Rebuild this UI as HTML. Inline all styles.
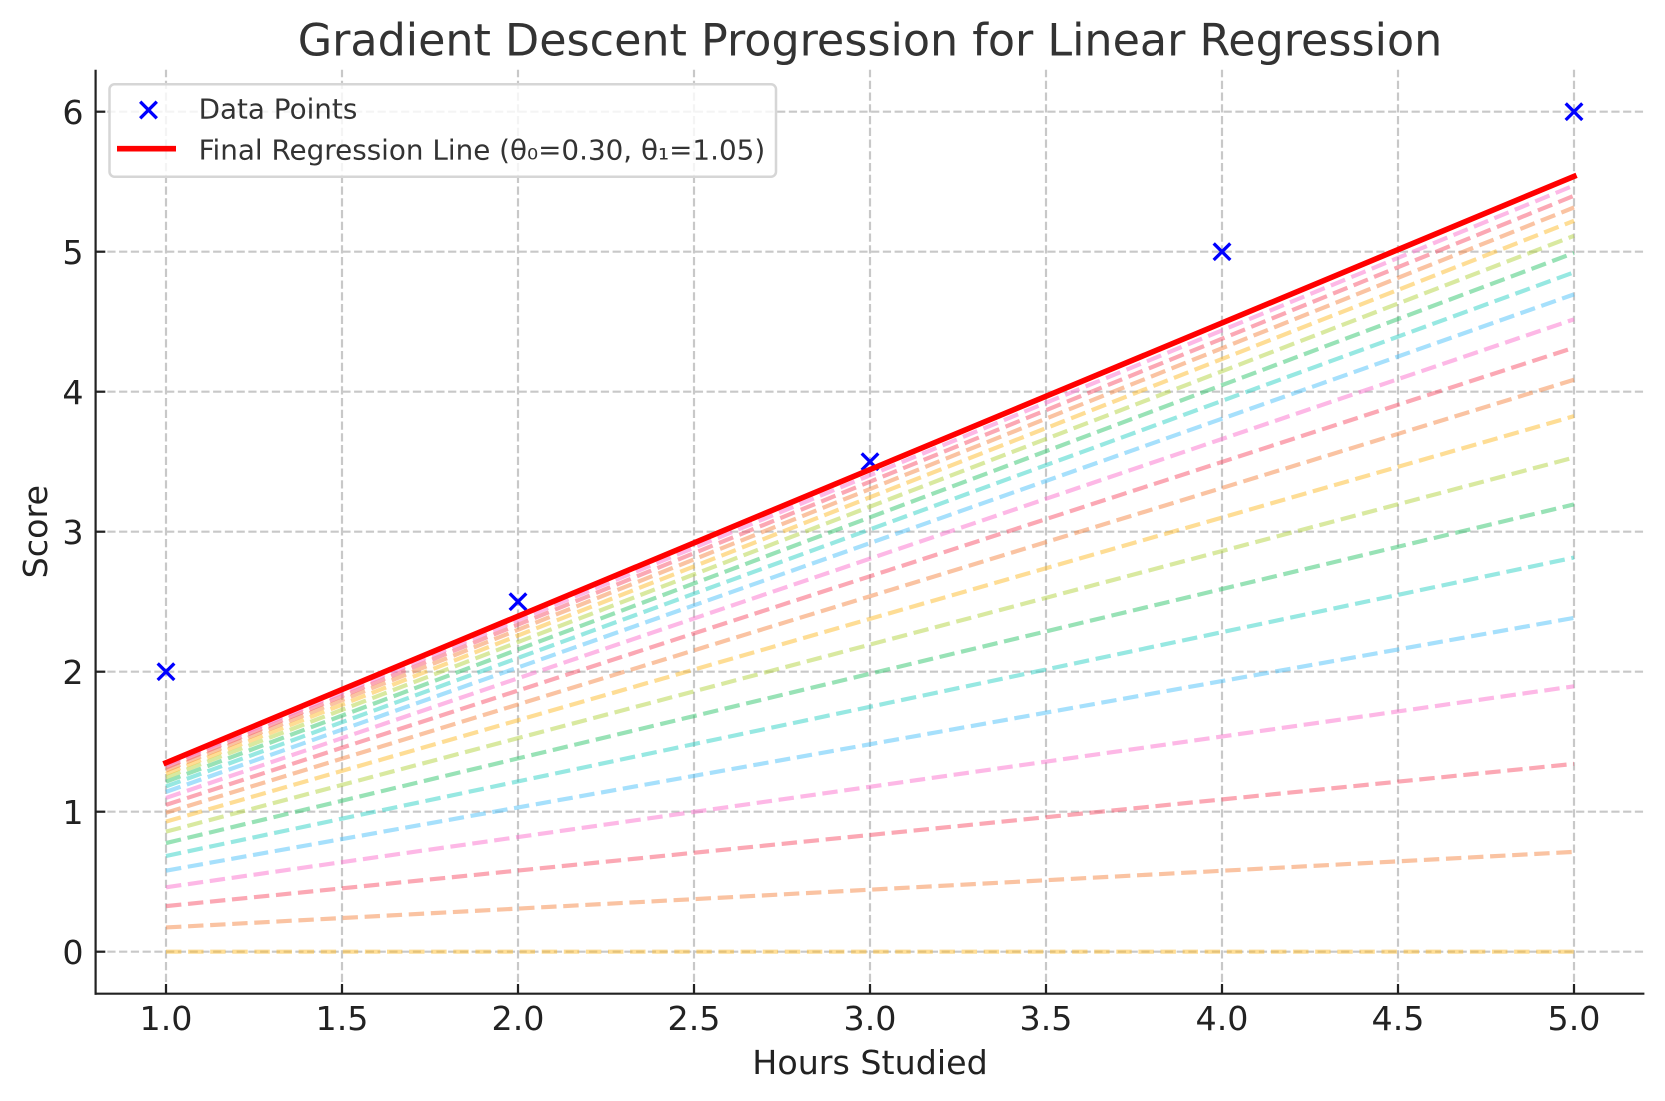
<!DOCTYPE html>
<html>
<head>
<meta charset="utf-8">
<style>
  html, body { margin: 0; padding: 0; background: #ffffff; }
  svg { display: block; }
  text { font-family: "DejaVu Sans", "Liberation Sans", sans-serif; }
</style>
</head>
<body>
<svg width="1665" height="1101" viewBox="0 0 1665 1101" xmlns="http://www.w3.org/2000/svg">
  <rect x="0" y="0" width="1665" height="1101" fill="#ffffff"/>

  <!-- Grid -->
  <g stroke="#c8c8c8" stroke-width="2.2" stroke-dasharray="8.2 3.55" fill="none">
    <line x1="166" y1="993.7" x2="166" y2="69.7"/>
    <line x1="342" y1="993.7" x2="342" y2="69.7"/>
    <line x1="518" y1="993.7" x2="518" y2="69.7"/>
    <line x1="694" y1="993.7" x2="694" y2="69.7"/>
    <line x1="870" y1="993.7" x2="870" y2="69.7"/>
    <line x1="1046" y1="993.7" x2="1046" y2="69.7"/>
    <line x1="1222" y1="993.7" x2="1222" y2="69.7"/>
    <line x1="1398" y1="993.7" x2="1398" y2="69.7"/>
    <line x1="1574" y1="993.7" x2="1574" y2="69.7"/>
    <line x1="95.6" y1="951.7" x2="1644.4" y2="951.7"/>
    <line x1="95.6" y1="811.7" x2="1644.4" y2="811.7"/>
    <line x1="95.6" y1="671.7" x2="1644.4" y2="671.7"/>
    <line x1="95.6" y1="531.7" x2="1644.4" y2="531.7"/>
    <line x1="95.6" y1="391.7" x2="1644.4" y2="391.7"/>
    <line x1="95.6" y1="251.7" x2="1644.4" y2="251.7"/>
    <line x1="95.6" y1="111.7" x2="1644.4" y2="111.7"/>
  </g>

  <!-- Scatter data points -->
  <g stroke="#0000ff" stroke-width="3.3" fill="none">
    <path d="M157.7 663.4 L174.3 680 M174.3 663.4 L157.7 680"/>
    <path d="M509.7 593.4 L526.3 610 M526.3 593.4 L509.7 610"/>
    <path d="M861.7 453.4 L878.3 470 M878.3 453.4 L861.7 470"/>
    <path d="M1213.7 243.4 L1230.3 260 M1230.3 243.4 L1213.7 260"/>
    <path d="M1565.7 103.4 L1582.3 120 M1582.3 103.4 L1565.7 120"/>
  </g>

  <!-- Gradient descent iteration lines -->
  <g stroke-width="4.17" stroke-dasharray="15.4 6.7" stroke-opacity="0.5" fill="none" stroke-linecap="butt">
    <line x1="166" y1="951.7" x2="1574" y2="951.7" stroke="#fdbb2b"/>
    <line x1="166" y1="927.48" x2="1574" y2="851.88" stroke="#f58745"/>
    <line x1="166" y1="906.12" x2="1574" y2="763.87" stroke="#f75169"/>
    <line x1="166" y1="887.28" x2="1574" y2="686.28" stroke="#fb71cd"/>
    <line x1="166" y1="870.66" x2="1574" y2="617.87" stroke="#4dc1f9"/>
    <line x1="166" y1="856.00" x2="1574" y2="557.56" stroke="#2fd1c5"/>
    <line x1="166" y1="843.07" x2="1574" y2="504.39" stroke="#31c56d"/>
    <line x1="166" y1="831.66" x2="1574" y2="457.51" stroke="#b3d341"/>
    <line x1="166" y1="821.60" x2="1574" y2="416.18" stroke="#fdbb2b"/>
    <line x1="166" y1="812.72" x2="1574" y2="379.75" stroke="#f58745"/>
    <line x1="166" y1="804.88" x2="1574" y2="347.63" stroke="#f75169"/>
    <line x1="166" y1="797.96" x2="1574" y2="319.31" stroke="#fb71cd"/>
    <line x1="166" y1="791.86" x2="1574" y2="294.35" stroke="#4dc1f9"/>
    <line x1="166" y1="786.47" x2="1574" y2="272.34" stroke="#2fd1c5"/>
    <line x1="166" y1="781.71" x2="1574" y2="252.94" stroke="#31c56d"/>
    <line x1="166" y1="777.51" x2="1574" y2="235.84" stroke="#b3d341"/>
    <line x1="166" y1="773.80" x2="1574" y2="220.77" stroke="#fdbb2b"/>
    <line x1="166" y1="770.52" x2="1574" y2="207.48" stroke="#f58745"/>
    <line x1="166" y1="767.63" x2="1574" y2="195.77" stroke="#f75169"/>
    <line x1="166" y1="765.07" x2="1574" y2="185.44" stroke="#fb71cd"/>
  </g>

  <!-- Final regression line -->
  <line x1="166" y1="762.80" x2="1574" y2="176.34" stroke="#ff0000" stroke-width="5.56" stroke-linecap="square"/>

  <!-- Spines -->
  <g stroke="#222222" stroke-width="2.2" fill="none">
    <line x1="95.6" y1="69.7" x2="95.6" y2="994.8"/>
    <line x1="94.5" y1="993.7" x2="1644.4" y2="993.7"/>
  </g>

  <!-- Ticks (inward) -->
  <g stroke="#222222" stroke-width="2.2">
    <line x1="166" y1="993.7" x2="166" y2="984"/>
    <line x1="342" y1="993.7" x2="342" y2="984"/>
    <line x1="518" y1="993.7" x2="518" y2="984"/>
    <line x1="694" y1="993.7" x2="694" y2="984"/>
    <line x1="870" y1="993.7" x2="870" y2="984"/>
    <line x1="1046" y1="993.7" x2="1046" y2="984"/>
    <line x1="1222" y1="993.7" x2="1222" y2="984"/>
    <line x1="1398" y1="993.7" x2="1398" y2="984"/>
    <line x1="1574" y1="993.7" x2="1574" y2="984"/>
    <line x1="95.6" y1="951.7" x2="105.3" y2="951.7"/>
    <line x1="95.6" y1="811.7" x2="105.3" y2="811.7"/>
    <line x1="95.6" y1="671.7" x2="105.3" y2="671.7"/>
    <line x1="95.6" y1="531.7" x2="105.3" y2="531.7"/>
    <line x1="95.6" y1="391.7" x2="105.3" y2="391.7"/>
    <line x1="95.6" y1="251.7" x2="105.3" y2="251.7"/>
    <line x1="95.6" y1="111.7" x2="105.3" y2="111.7"/>
  </g>

  <!-- X tick labels -->
  <g font-size="33.3" fill="#222222" text-anchor="middle">
    <text x="166" y="1030">1.0</text>
    <text x="342" y="1030">1.5</text>
    <text x="518" y="1030">2.0</text>
    <text x="694" y="1030">2.5</text>
    <text x="870" y="1030">3.0</text>
    <text x="1046" y="1030">3.5</text>
    <text x="1222" y="1030">4.0</text>
    <text x="1398" y="1030">4.5</text>
    <text x="1574" y="1030">5.0</text>
  </g>

  <!-- Y tick labels -->
  <g font-size="33.3" fill="#222222" text-anchor="end">
    <text x="83.5" y="963.8">0</text>
    <text x="83.5" y="823.8">1</text>
    <text x="83.5" y="683.8">2</text>
    <text x="83.5" y="543.8">3</text>
    <text x="83.5" y="403.8">4</text>
    <text x="83.5" y="263.8">5</text>
    <text x="83.5" y="123.8">6</text>
  </g>

  <!-- Axis labels -->
  <text x="870" y="1074" font-size="33.3" fill="#222222" text-anchor="middle">Hours Studied</text>
  <text transform="translate(47,531.7) rotate(-90)" x="0" y="0" font-size="33.3" fill="#222222" text-anchor="middle">Score</text>

  <!-- Title -->
  <text x="870" y="55.7" font-size="44.4" fill="#333333" text-anchor="middle">Gradient Descent Progression for Linear Regression</text>

  <!-- Legend -->
  <rect x="109.5" y="84.3" width="666.5" height="92.4" rx="5" ry="5" fill="#ffffff" fill-opacity="0.8" stroke="#d6d6d6" stroke-width="2.5"/>
  <path d="M140.2 101.7 L156.8 118.3 M156.8 101.7 L140.2 118.3" stroke="#0000ff" stroke-width="3.3" fill="none"/>
  <line x1="117" y1="148.7" x2="176" y2="148.7" stroke="#ff0000" stroke-width="5.56"/>
  <g font-size="27.8" fill="#333333">
    <text x="198.6" y="118.3">Data Points</text>
    <text x="198.6" y="159.3">Final Regression Line (θ₀=0.30, θ₁=1.05)</text>
  </g>
</svg>
</body>
</html>
